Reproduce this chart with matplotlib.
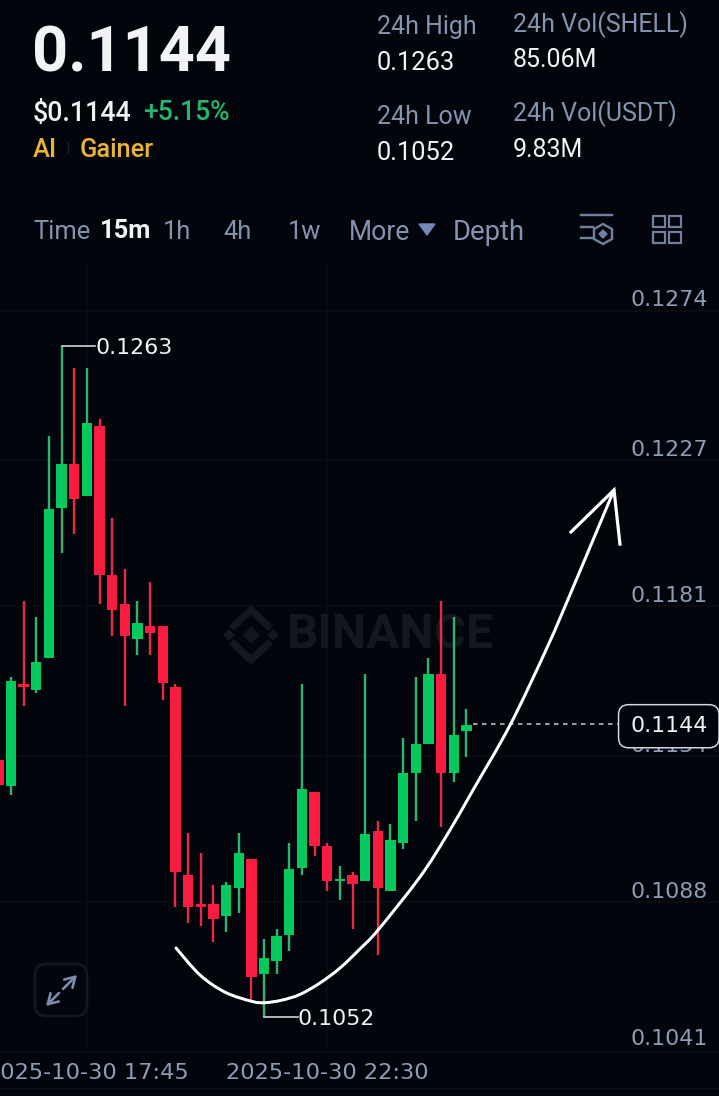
import matplotlib
matplotlib.use("Agg")
import matplotlib.pyplot as plt
from matplotlib.patches import FancyBboxPatch, PathPatch, Polygon, Rectangle
from matplotlib.path import Path

W, H = 719, 1096
BG = "#03050c"
GRID = "#0a0c12"
GREEN = "#03c95f"
RED = "#f81c40"
GREEN_WICK = "#2fb36d"
RED_WICK = "#e62a48"
MUTED = "#8493ae"
LABEL = "#8f9db4"
WHITE = "#f2f3f5"
CHART_FONT = ["DejaVu Sans"]

plt.rcParams["font.family"] = ["Roboto", "DejaVu Sans"]

# prices, one entry per 15m candle
opens = [0.11327, 0.11246, 0.11566, 0.11547, 0.11648, 0.12119, 0.12257, 0.12158, 0.12378, 0.11908,
         0.11817, 0.11708, 0.11749, 0.11749, 0.11557, 0.10966, 0.10875, 0.10875, 0.10837, 0.10926,
         0.11015, 0.10656, 0.10696, 0.10777, 0.10987, 0.11226, 0.11057, 0.10947, 0.10966, 0.10947,
         0.11105, 0.10917, 0.11066, 0.11288, 0.11378, 0.11597, 0.11288, 0.11418]
closes = [0.11249, 0.11577, 0.11557, 0.11636, 0.12117, 0.12257, 0.12148, 0.12388, 0.11908, 0.11799,
          0.11718, 0.11758, 0.11728, 0.11568, 0.10976, 0.10866, 0.10866, 0.10827, 0.10936, 0.11036,
          0.10647, 0.10706, 0.10775, 0.10986, 0.11236, 0.11057, 0.10947, 0.10954, 0.10937, 0.11096,
          0.10926, 0.11076, 0.11287, 0.11377, 0.11597, 0.11288, 0.11407, 0.11436]
highs = [0.11365, 0.11588, 0.11828, 0.11778, 0.12347, 0.12630, 0.12559, 0.12559, 0.12398, 0.12087,
         0.11927, 0.11827, 0.11888, 0.11749, 0.11566, 0.11098, 0.11036, 0.10936, 0.10945, 0.11098,
         0.11015, 0.10765, 0.10795, 0.11066, 0.11566, 0.11226, 0.11066, 0.10995, 0.10975, 0.11598,
         0.11136, 0.11125, 0.11396, 0.11587, 0.11647, 0.11827, 0.11776, 0.11488]
lows = [0.11227, 0.11217, 0.11497, 0.11539, 0.11648, 0.11979, 0.12037, 0.12158, 0.11817, 0.11717,
        0.11497, 0.11657, 0.11657, 0.11516, 0.10866, 0.10816, 0.10807, 0.10756, 0.10787, 0.10847,
        0.10568, 0.10520, 0.10656, 0.10726, 0.10966, 0.11027, 0.10916, 0.10887, 0.10796, 0.10947,
        0.10716, 0.10917, 0.11048, 0.11137, 0.11378, 0.11118, 0.11257, 0.11338]

price_ticks = [0.1274, 0.1227, 0.1181, 0.1134, 0.1088, 0.1041]
time_ticks = [7, 26]
time_labels = ["2025-10-30 17:45", "2025-10-30 22:30"]
high_idx, high_price = 5, 0.1263
low_idx, low_price = 21, 0.1052
last_price = 0.1144

# hand drawn arrow on top of the chart, as candle index / price
curve_idx = [14.04, 15.94, 17.92, 20.05, 21.08, 22.42, 23.85, 25.43, 27.01, 28.59, 30.01, 33.33,
             35.47, 37.52, 40.45, 43.37, 45.35, 48.67]
curve_price = [0.10737, 0.10652, 0.10598, 0.10569, 0.10565, 0.10573, 0.10591, 0.10627, 0.10674,
               0.10734, 0.10793, 0.1096, 0.11092, 0.11233, 0.11437, 0.1168, 0.11862, 0.12176]
head_idx = [45.27, 48.67, 49.14]
head_price = [0.12044, 0.12176, 0.12006]


def px(v):
    # pixels to points
    return v * 0.72


def smooth_path(xs, ys):
    # catmull-rom through the points, as bezier pieces
    pts = list(zip(xs, ys))
    verts = [pts[0]]
    codes = [Path.MOVETO]
    for i in range(len(pts) - 1):
        p0 = pts[max(i - 1, 0)]
        p1 = pts[i]
        p2 = pts[i + 1]
        p3 = pts[min(i + 2, len(pts) - 1)]
        c1 = (p1[0] + (p2[0] - p0[0]) / 6, p1[1] + (p2[1] - p0[1]) / 6)
        c2 = (p2[0] - (p3[0] - p1[0]) / 6, p2[1] - (p3[1] - p1[1]) / 6)
        verts += [c1, c2, p2]
        codes += [Path.CURVE4] * 3
    return Path(verts, codes)


fig = plt.figure(figsize=(W / 100, H / 100), dpi=100, facecolor=BG)

# chart area
ax = fig.add_axes([0, 1 - 1052 / H, 1, (1052 - 265) / H], facecolor=BG)
ax.set_xlim(0.1304, 56.97)
ax.set_ylim(0.1041, 0.12883)
for s in ax.spines.values():
    s.set_visible(False)
ax.set_yticks(price_ticks)
ax.set_yticklabels([])
ax.set_xticks(time_ticks)
ax.set_xticklabels(time_labels, color=LABEL, fontsize=px(22.5), family=CHART_FONT)
ax.tick_params(length=0, pad=px(11))
ax.grid(True, color=GRID, lw=1.4)
ax.set_axisbelow(True)

# watermark
ax.text(0.5431, 0.53, "BINANCE", transform=ax.transAxes, ha="center", va="center",
        fontsize=px(49), fontweight="bold", color="#13171e", zorder=1)

for i in range(len(opens)):
    up = closes[i] >= opens[i]
    ax.vlines(i, lows[i], highs[i], color=GREEN_WICK if up else RED_WICK, lw=px(2.4), zorder=3)
    bottom = min(opens[i], closes[i])
    height = max(abs(closes[i] - opens[i]), 0.00006)
    ax.bar(i, height, bottom=bottom, width=0.82, color=GREEN if up else RED, zorder=4)

for p in price_ticks:
    # lowest label sits a bit higher, as in the app
    lift = 13.5 if p == price_ticks[-1] else 10.5
    ax.annotate(f"{p:.4f}", xy=(1, p), xycoords=("axes fraction", "data"),
                xytext=(px(-11), px(lift)), textcoords="offset points",
                ha="right", va="center", color=LABEL, fontsize=px(22.2), zorder=5, family=CHART_FONT)

# high / low markers
ax.plot([high_idx, 7.65], [high_price, high_price], color="#d8dadd", lw=px(1.6), zorder=5)
ax.annotate(f"{high_price:.4f}", xy=(7.65, high_price), xytext=(0, px(-2)), textcoords="offset points",
            ha="left", va="center", color=WHITE, fontsize=px(22.2), zorder=6, family=CHART_FONT)
ax.plot([low_idx, 23.65], [low_price, low_price], color="#d8dadd", lw=px(1.6), zorder=5)
ax.annotate(f"{low_price:.4f}", xy=(23.65, low_price), xytext=(0, px(-2)), textcoords="offset points",
            ha="left", va="center", color=WHITE, fontsize=px(22.2), zorder=6, family=CHART_FONT)

# last price line and box
ax.plot([37.5, 49.1], [last_price, last_price], color="#c9ccd2", lw=px(1.5), ls=(0, (3, 3)), zorder=5)
ax.annotate(f"{last_price:.4f}", xy=(53.0, last_price), xytext=(0, px(-2)), textcoords="offset points",
            ha="center", va="center", color=WHITE, fontsize=px(22.2), zorder=8, family=CHART_FONT,
            bbox=dict(boxstyle="round,pad=0.52,rounding_size=0.45", fc=BG, ec="#d5d8de", lw=px(1.5)))

# arrow
ax.add_patch(PathPatch(smooth_path(curve_idx, curve_price), fc="none", ec="white", lw=px(3),
                       capstyle="round", zorder=7))
ax.plot(head_idx, head_price, color="white", lw=px(3.2), solid_joinstyle="miter", zorder=7)

# overlay in pixel coordinates for the app chrome
ui = fig.add_axes([0, 0, 1, 1], facecolor="none")
ui.set_xlim(0, W)
ui.set_ylim(H, 0)
ui.axis("off")


def label(x, y, s, color=MUTED, size=25, weight="normal", ha="left"):
    ui.text(x, y, s, color=color, fontsize=px(size), fontweight=weight, ha=ha, va="center")


label(32, 54, "0.1144", WHITE, 63, "bold")
label(33, 113, "$0.1144", WHITE, 26.8, "medium")
label(143, 113, "+5.15%", "#22b86e", 26.5, "medium")
label(33, 150, "AI", "#e8b432", 25.5, "medium")
label(80, 150, "Gainer", "#e8b432", 25.5, "medium")
ui.plot([68, 68], [142, 153], color="#1c1f26", lw=1)

label(377, 27, "24h High")
label(377, 63, "0.1263", WHITE, 25.5)
label(377, 117, "24h Low")
label(377, 153, "0.1052", WHITE, 25.5)
label(513, 25, "24h Vol(SHELL)")
label(513, 60, "85.06M", WHITE)
label(513, 114, "24h Vol(USDT)")
label(513, 150, "9.83M", WHITE)

label(33, 232, "Time", MUTED, 25.5)
label(100, 231, "15m", WHITE, 25.5, "bold")
label(163, 232, "1h", MUTED, 25.5)
label(223, 232, "4h", MUTED, 25.5)
label(288, 232, "1w", MUTED, 25.5)
label(349, 232, "More", MUTED, 26.5)
label(453, 232, "Depth", MUTED, 27.5)
ui.add_patch(Polygon([[419, 224], [435, 224], [427, 235]], closed=True, color="#7189b4"))

# settings icon
icon = "#71809f"
ui.plot([581, 612], [215, 215], color=icon, lw=px(2.4))
ui.plot([581, 593], [227, 227], color=icon, lw=px(2.4))
ui.plot([581, 593], [238, 238], color=icon, lw=px(2.4))
ui.add_patch(Polygon([[603, 224], [612, 229], [612, 239], [603, 244], [594, 239], [594, 229]],
                     closed=True, fc="none", ec=icon, lw=px(2.4)))
ui.add_patch(Polygon([[603, 230], [607, 234], [603, 238], [599, 234]], closed=True, color=icon))

# layout icon
for x0 in (653, 669):
    for y0 in (216, 232):
        ui.add_patch(Rectangle((x0, y0), 12, 11, fc="none", ec=icon, lw=px(2.2)))

# expand button
ui.add_patch(FancyBboxPatch((35, 964), 52, 52, boxstyle="round,pad=0,rounding_size=11",
                            fc=BG, ec="#14171f", lw=px(2.6)))
arrow_style = dict(arrowstyle="->,head_width=0.3,head_length=0.5", color="#7c8dac", lw=px(2.6),
                   shrinkA=0, shrinkB=0, mutation_scale=14)
ui.annotate("", xy=(77, 975), xytext=(63, 989), arrowprops=arrow_style)
ui.annotate("", xy=(46, 1006), xytext=(59, 993), arrowprops=arrow_style)

# watermark logo
logo = "#13171e"
for cx, cy, r in [(251, 635, 7.5), (229, 635, 5), (273, 635, 5)]:
    ui.add_patch(Polygon([[cx, cy - r], [cx + r, cy], [cx, cy + r], [cx - r, cy]], closed=True, color=logo))
ui.plot([234, 251, 268], [626, 610, 626], color=logo, lw=px(7), solid_joinstyle="miter")
ui.plot([234, 251, 268], [644, 660, 644], color=logo, lw=px(7), solid_joinstyle="miter")

# rule under the time axis
ui.plot([0, W], [1088, 1088], color="#0b0d13", lw=1)
ui.plot([0, W], [1052, 1052], color=GRID, lw=1)

fig.savefig("out.png", dpi=100, facecolor=BG)
